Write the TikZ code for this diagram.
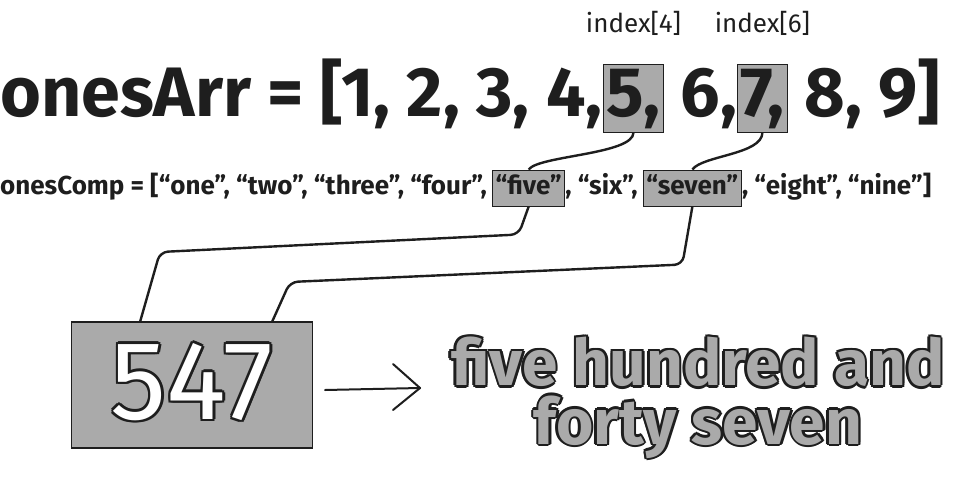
\documentclass[tikz,border=0pt]{standalone}
\usepackage{fontspec}
\setmainfont{Fira Sans}
\usetikzlibrary{calc}
\definecolor{boxgray}{RGB}{170,170,170}
\definecolor{ink}{RGB}{30,30,30}
\tikzset{
  big/.style={inner sep=0pt,font=\fontsize{70}{74}\selectfont\bfseries,text=ink},
  bigbox/.style={big,fill=boxgray,draw=ink,line width=1pt,inner xsep=3pt,text height=52pt,text depth=16pt},
  mid/.style={inner sep=0pt,font=\fontsize{26}{28}\selectfont\bfseries,text=ink},
  midbox/.style={mid,fill=boxgray,draw=ink,line width=1pt,inner xsep=3pt,text height=24pt,text depth=12pt},
  idx/.style={inner sep=0pt,font=\fontsize{26}{28}\selectfont,text=ink},
  wire/.style={draw=ink,line width=2.4pt,rounded corners=8pt},
  hand/.style={draw=ink,line width=2pt,line cap=round,line join=round}
}
\newcommand{\outl}[3]{%
  \foreach \dx/\dy in {-2.5/0,2.5/0,0/-2.5,0/2.5,-1.8/-1.8,1.8/1.8,-1.8/1.8,1.8/-1.8}{
    \node[#3,text=ink] at ($(#1)+(\dx,\dy)$) {#2};}
  \node[#3] at (#1) {#2};}
\begin{document}
\begin{tikzpicture}[x=1pt,y=-1pt]
\useasboundingbox[fill=white] (0,0) rectangle (972,480);
% big line
\node[big,anchor=base west] (a0) at (0,116) {onesArr = [1, 2, 3, 4,};
\node[bigbox,anchor=base west] (b5) at (a0.base east) {5,};
\node[big,anchor=base west] (a1) at (b5.base east) {\ 6,};
\node[bigbox,anchor=base west] (b7) at (a1.base east) {7,};
\node[big,anchor=base west] (a2) at (b7.base east) {\ 8, 9]};
\node[idx,anchor=base] (i4) at (b5.north |- 0,32) {index[4]};
\node[idx,anchor=base] (i6) at (b7.north |- 0,32) {index[6]};
% second line
\node[mid,anchor=base west] (c0) at (0,194) {onesComp = [“one”, “two”, “three”, “four”,};
\node[midbox,anchor=base west] (d5) at ($(c0.base east)+(5,0)$) {“five”};
\node[mid,anchor=base west] (c1) at (d5.base east) {, “six”,};
\node[midbox,anchor=base west] (d7) at ($(c1.base east)+(5,0)$) {“seven”};
\node[mid,anchor=base west] (c2) at (d7.base east) {, “eight”, “nine”]};
% result box
\node[draw=ink,line width=1.5pt,fill=boxgray,minimum width=241pt,minimum height=126pt] (res) at (192,385) {};
\coordinate (r5) at (140,322);
\coordinate (r7) at (272,322);
\coordinate (rt) at (192,382);
\outl{rt}{547}{inner sep=0pt,font=\fontsize{112}{112}\selectfont,text=white}
% wires
\draw[wire] (b5.south) .. controls ($(b5.south)+(0,22)$) and ($(d5.north)+(10,-14)$) .. (d5.north);
\draw[wire] (b7.south) .. controls ($(b7.south)+(0,22)$) and ($(d7.north)+(10,-14)$) .. (d7.north);
\draw[wire] (d5.south) -- ($(d5.south)+(-10,28)$) -- (160,252) -- (r5);
\draw[wire] (d7.south) -- ($(d7.south)+(-10,58)$) -- (290,282) -- (r7);
% arrow
\coordinate (ah) at (420,388);
\draw[hand] (325,390) -- (ah);
\draw[hand] (393,364) -- (ah) -- (393,410);
% words
\coordinate (w1) at (698,362);
\coordinate (w2) at (698,427);
\outl{w1}{five hundred and}{inner sep=0pt,font=\fontsize{64}{64}\selectfont\bfseries,text=boxgray}
\outl{w2}{forty seven}{inner sep=0pt,font=\fontsize{64}{64}\selectfont\bfseries,text=boxgray}
\end{tikzpicture}
\end{document}
